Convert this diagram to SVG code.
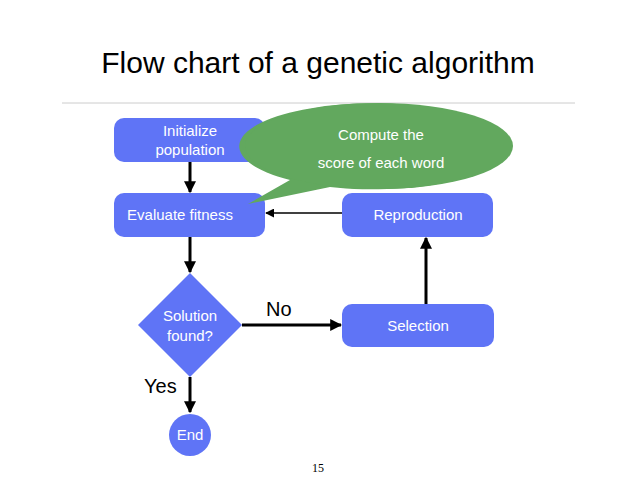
<svg xmlns="http://www.w3.org/2000/svg" width="638" height="493" viewBox="0 0 638 493">
<style>
.n{fill:#5f74f6}
.t{font-family:"Liberation Sans",Arial,sans-serif;fill:#fff;font-size:15px;text-anchor:middle}
.c{stroke:#000;stroke-width:3;fill:none}
.l{font-family:"Liberation Sans",Arial,sans-serif;font-size:20px;fill:#000}
</style>
<defs>
<marker id="a" viewBox="0 0 10 10" refX="9" refY="5" markerWidth="4" markerHeight="4" orient="auto"><path d="M0,0L10,5L0,10z" fill="#000"/></marker>
<marker id="b" viewBox="0 0 10 10" refX="9" refY="5" markerWidth="6" markerHeight="6" orient="auto"><path d="M0,0L10,5L0,10z" fill="#000"/></marker>
</defs>
<rect width="638" height="493" fill="#fff"/>
<text x="318" y="73" text-anchor="middle" font-family="Liberation Sans,Arial,sans-serif" font-size="30">Flow chart of a genetic algorithm</text>
<line x1="62" y1="103" x2="575" y2="103" stroke="#ccc" stroke-width="1"/>
<g id="connectors">
<path class="c" d="M190,161V192" marker-end="url(#a)"/>
<path class="c" d="M190,237V272" marker-end="url(#a)"/>
<path class="c" d="M190,377V412" marker-end="url(#a)"/>
<path class="c" d="M242,325H341" marker-end="url(#a)"/>
<path class="c" d="M426,304V238" marker-end="url(#a)"/>
<path d="M342,213H266" stroke="#000" stroke-width="1.5" marker-end="url(#b)"/>
<text class="l" x="266" y="316">No</text>
<text class="l" x="144" y="393">Yes</text>
</g>
<g id="init"><rect class="n" x="114" y="118" width="151" height="44" rx="10"/><text class="t" x="190" y="136">Initialize</text><text class="t" x="190" y="155">population</text></g>
<g id="eval"><rect class="n" x="114" y="193" width="151" height="44" rx="10"/><text class="t" x="180" y="220">Evaluate fitness</text></g>
<g id="repro"><rect class="n" x="342" y="193" width="151" height="44" rx="10"/><text class="t" x="418" y="220">Reproduction</text></g>
<g id="decision"><path class="n" d="M190,273L242,325L190,377L138,325z"/><text class="t" x="190" y="321">Solution</text><text class="t" x="190" y="341">found?</text></g>
<g id="selection"><rect class="n" x="342" y="304" width="152" height="43" rx="10"/><text class="t" x="418" y="331">Selection</text></g>
<g id="end"><circle class="n" cx="190" cy="435" r="21"/><text class="t" x="190" y="440">End</text></g>
<g id="bubble"><path fill="#62a85e" d="M248,204L290,180A134,43 0 1 1 330,187z"/><ellipse fill="#62a85e" cx="379" cy="146" rx="134" ry="43"/>
<text class="t" x="381" y="140" font-size="22">Compute the</text><text class="t" x="381" y="168" font-size="22">score of each word</text></g>
<text x="318" y="472" text-anchor="middle" font-family="Liberation Serif,serif" font-size="12">15</text>
</svg>
